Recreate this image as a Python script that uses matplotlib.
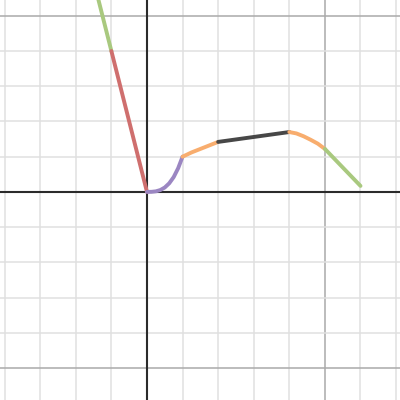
import numpy as np
import matplotlib
matplotlib.use("Agg")
import matplotlib.pyplot as plt

# piecewise pieces (x, y in graph units)
green_left_x = [-1.45, -1.0]
green_left_y = [5.8, 4.0]

red_x = [-1.0, 0.0]
red_y = [4.0, 0.0]

purple_x = [0.0, 0.125, 0.25, 0.375, 0.5, 0.625, 0.75, 0.875, 1.0]
purple_y = [0.0, 0.002, 0.016, 0.053, 0.125, 0.244, 0.42, 0.67, 1.0]

orange1_x = [1.0, 1.125, 1.25, 1.375, 1.5, 1.625, 1.75, 1.875, 2.0]
orange1_y = [1.0, 1.06, 1.12, 1.17, 1.22, 1.27, 1.32, 1.37, 1.42]

black_x = [2.0, 4.0]
black_y = [1.42, 1.70]

orange2_x = [4.0, 4.2, 4.4, 4.6, 4.8, 5.0]
orange2_y = [1.70, 1.66, 1.58, 1.48, 1.37, 1.22]

green_right_x = [5.0, 6.0]
green_right_y = [1.22, 0.17]

fig = plt.figure(figsize=(4, 4), dpi=100)
ax = fig.add_axes([0, 0, 1, 1])
ax.set_xlim(-4.13, 7.11)
ax.set_ylim(-5.91, 5.45)

# grid
for gx in range(-4, 8):
    major = gx % 5 == 0
    ax.axvline(gx, color='#aaaaaa' if major else '#e0e0e0', lw=1.1, zorder=0)
for gy in range(-5, 6):
    major = gy % 5 == 0
    ax.axhline(gy, color='#aaaaaa' if major else '#e0e0e0', lw=1.1, zorder=0)
ax.axvline(0, color='#2b2b2b', lw=1.5, zorder=1)
ax.axhline(0, color='#2b2b2b', lw=1.5, zorder=1)

lw = 2.8
ax.plot(green_left_x, green_left_y, color='#a9c97f', lw=lw, solid_capstyle='round')
ax.plot(red_x, red_y, color='#cf6f6e', lw=lw, solid_capstyle='round')
ax.plot(purple_x, purple_y, color='#9b86c2', lw=lw, solid_capstyle='round')
ax.plot(orange1_x, orange1_y, color='#f8ad6e', lw=lw, solid_capstyle='round')
ax.plot(black_x, black_y, color='#474747', lw=lw, solid_capstyle='round')
ax.plot(orange2_x, orange2_y, color='#f8ad6e', lw=lw, solid_capstyle='round')
ax.plot(green_right_x, green_right_y, color='#a9c97f', lw=lw, solid_capstyle='round')

ax.set_xticks([])
ax.set_yticks([])
for s in ax.spines.values():
    s.set_visible(False)

fig.savefig('out.png', dpi=100)
